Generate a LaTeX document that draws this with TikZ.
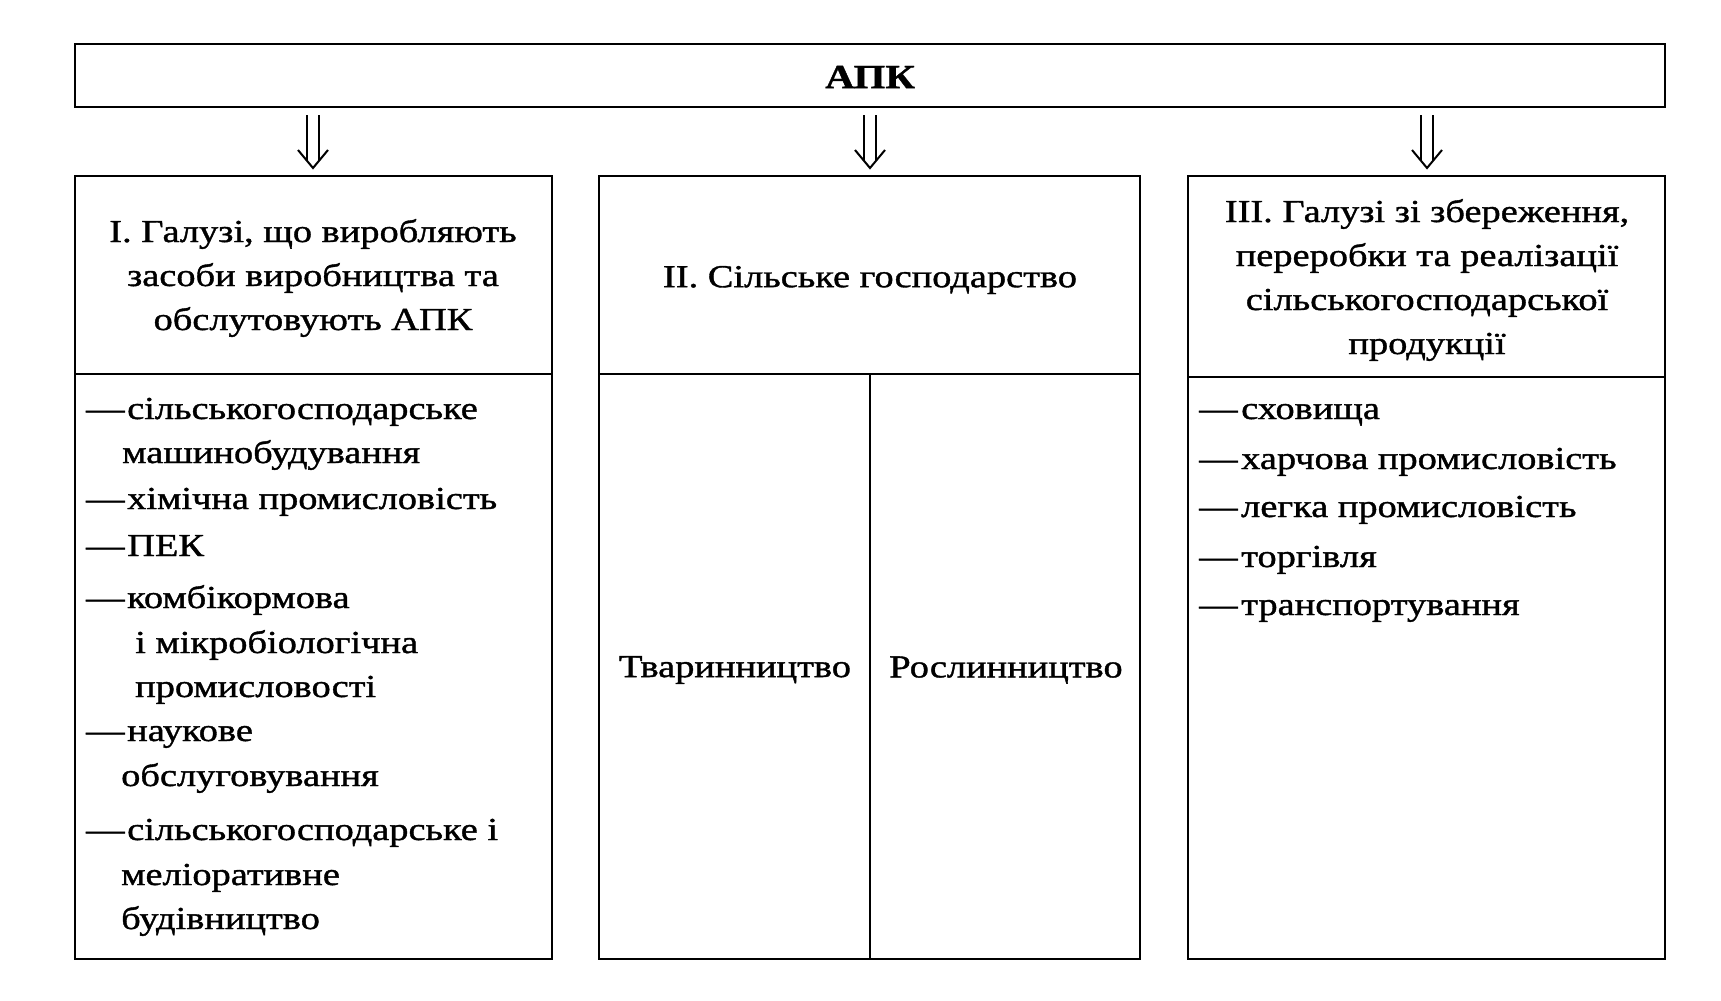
\documentclass[tikz,border=0pt]{standalone}
\usepackage{fontspec}
\setmainfont[FakeStretch=1.2,FakeBold=1.2]{Liberation Serif}
\begin{document}
\begin{tikzpicture}[x=1pt,y=-1pt,
 box/.style={draw,line width=2.2pt},
 txt/.style={font=\fontsize{32}{44}\selectfont},
 hdr/.style={txt,align=center},
 item/.style={txt,anchor=base west,inner sep=0}]
\useasboundingbox (0,0) rectangle (1721,1001);
\draw[box] (75,44) rectangle (1665,107);
\node[font=\fontsize{34}{40}\selectfont\bfseries] (apk) at (870,77) {АПК};
% boxes
\draw[box] (75,176) rectangle (552,959); \draw[box] (75,374) -- (552,374);
\draw[box] (599,176) rectangle (1140,959); \draw[box] (599,374) -- (1140,374); \draw[box] (870,374) -- (870,959);
\draw[box] (1188,176) rectangle (1665,959); \draw[box] (1188,377) -- (1665,377);
% arrows
\foreach \x/\n in {313/a1,870/a2,1427/a3}{
 \draw[line width=2pt] (\x-6,115) -- (\x-6,160) (\x+6,115) -- (\x+6,160);
 \draw[line width=2pt,line join=miter] (\x-15,150) -- (\x,168) -- (\x+15,150);
 \coordinate (\n) at (\x,168);}
\node[hdr] (h1) at (313,278) {I. Галузі, що виробляють\\засоби виробництва та\\обслутовують АПК};
\node[hdr] (h2) at (870,280) {II. Сільське господарство};
\node[hdr] (h3) at (1427,280) {III. Галузі зі збереження,\\переробки та реалізації\\сільськогосподарської\\продукції};
\node[txt] (t1) at (735,670) {Тваринництво};
\node[txt] (t2) at (1006,670) {Рослинництво};
% left list
\foreach \y/\t in {419/сільськогосподарське,509/хімічна промисловість,556/ПЕК,608/комбікормова,741/наукове,840/сільськогосподарське і}
 {\node[item] at (86,\y) {—}; \node[item] at (127,\y) {\t};}
\foreach \y/\t/\xx in {463/машинобудування/122,653/і мікробіологічна/135,697/промисловості/135,786/обслуговування/121,885/меліоративне/121,929/будівництво/121}
 \node[item] at (\xx,\y) {\t};
% right list
\foreach \y/\t in {419/сховища,469/харчова промисловість,517/легка промисловість,567/торгівля,615/транспортування}
 {\node[item] at (1199,\y) {—}; \node[item] at (1241,\y) {\t};}
\end{tikzpicture}
\end{document}
